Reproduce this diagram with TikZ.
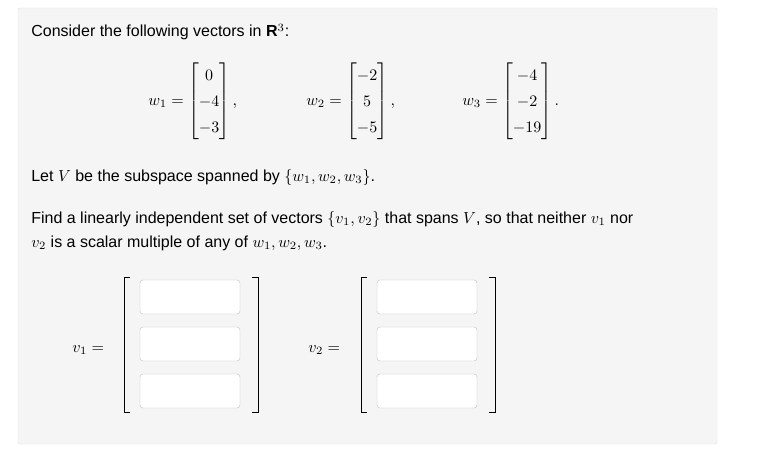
\documentclass[tikz,border=0pt]{standalone}
\usepackage{amsmath}
\usepackage{fontspec}
\setmainfont{Liberation Sans}
\tikzset{
  txt/.style={anchor=west,inner sep=0pt,font=\normalsize,scale=1.6},
  eq/.style={anchor=west,inner sep=0pt,font=\normalsize,scale=1.6},
  ibox/.style={draw=black!25,fill=white,rounded corners=3pt,minimum width=100pt,minimum height=34pt,inner sep=0pt},
  brk/.style={draw=black,line width=0.8pt}
}
\begin{document}
\begin{tikzpicture}[x=1pt,y=-1pt]
\useasboundingbox (0,0) rectangle (762,455);
\draw[draw=black!12,fill=black!4,rounded corners=2pt] (18,8) rectangle (717,444);
\node[txt] (t1) at (31,32) {Consider the following vectors in $\mathbf{R}^3$:};
\renewcommand{\arraystretch}{1.35}
\node[eq] (w1) at (148,101) {$w_1 = \begin{bmatrix}0\\-4\\-3\end{bmatrix},$};
\node[eq] (w2) at (306,101) {$w_2 = \begin{bmatrix}-2\\5\\-5\end{bmatrix},$};
\node[eq] (w3) at (462,101) {$w_3 = \begin{bmatrix}-4\\-2\\-19\end{bmatrix}.$};
\node[txt] (t2) at (31,177) {Let $V$ be the subspace spanned by $\{w_1, w_2, w_3\}$.};
\node[txt] (t3) at (31,219) {Find a linearly independent set of vectors $\{v_1, v_2\}$ that spans $V$, so that neither $v_1$ nor};
\node[txt] (t4) at (31,243) {$v_2$ is a scalar multiple of any of $w_1, w_2, w_3$.};
\node[eq] (v1) at (72,350) {$v_1 =$};
\node[eq] (v2) at (308,350) {$v_2 =$};
\foreach \x/\n in {190/a,427/b}{
  \node[ibox] (\n1) at (\x,297) {};
  \node[ibox] (\n2) at (\x,344) {};
  \node[ibox] (\n3) at (\x,391) {};
  \draw[brk] (\x-60,277) -- (\x-66,277) -- (\x-66,412) -- (\x-60,412);
  \draw[brk] (\x+62,277) -- (\x+68,277) -- (\x+68,412) -- (\x+62,412);
}
\end{tikzpicture}
\end{document}
